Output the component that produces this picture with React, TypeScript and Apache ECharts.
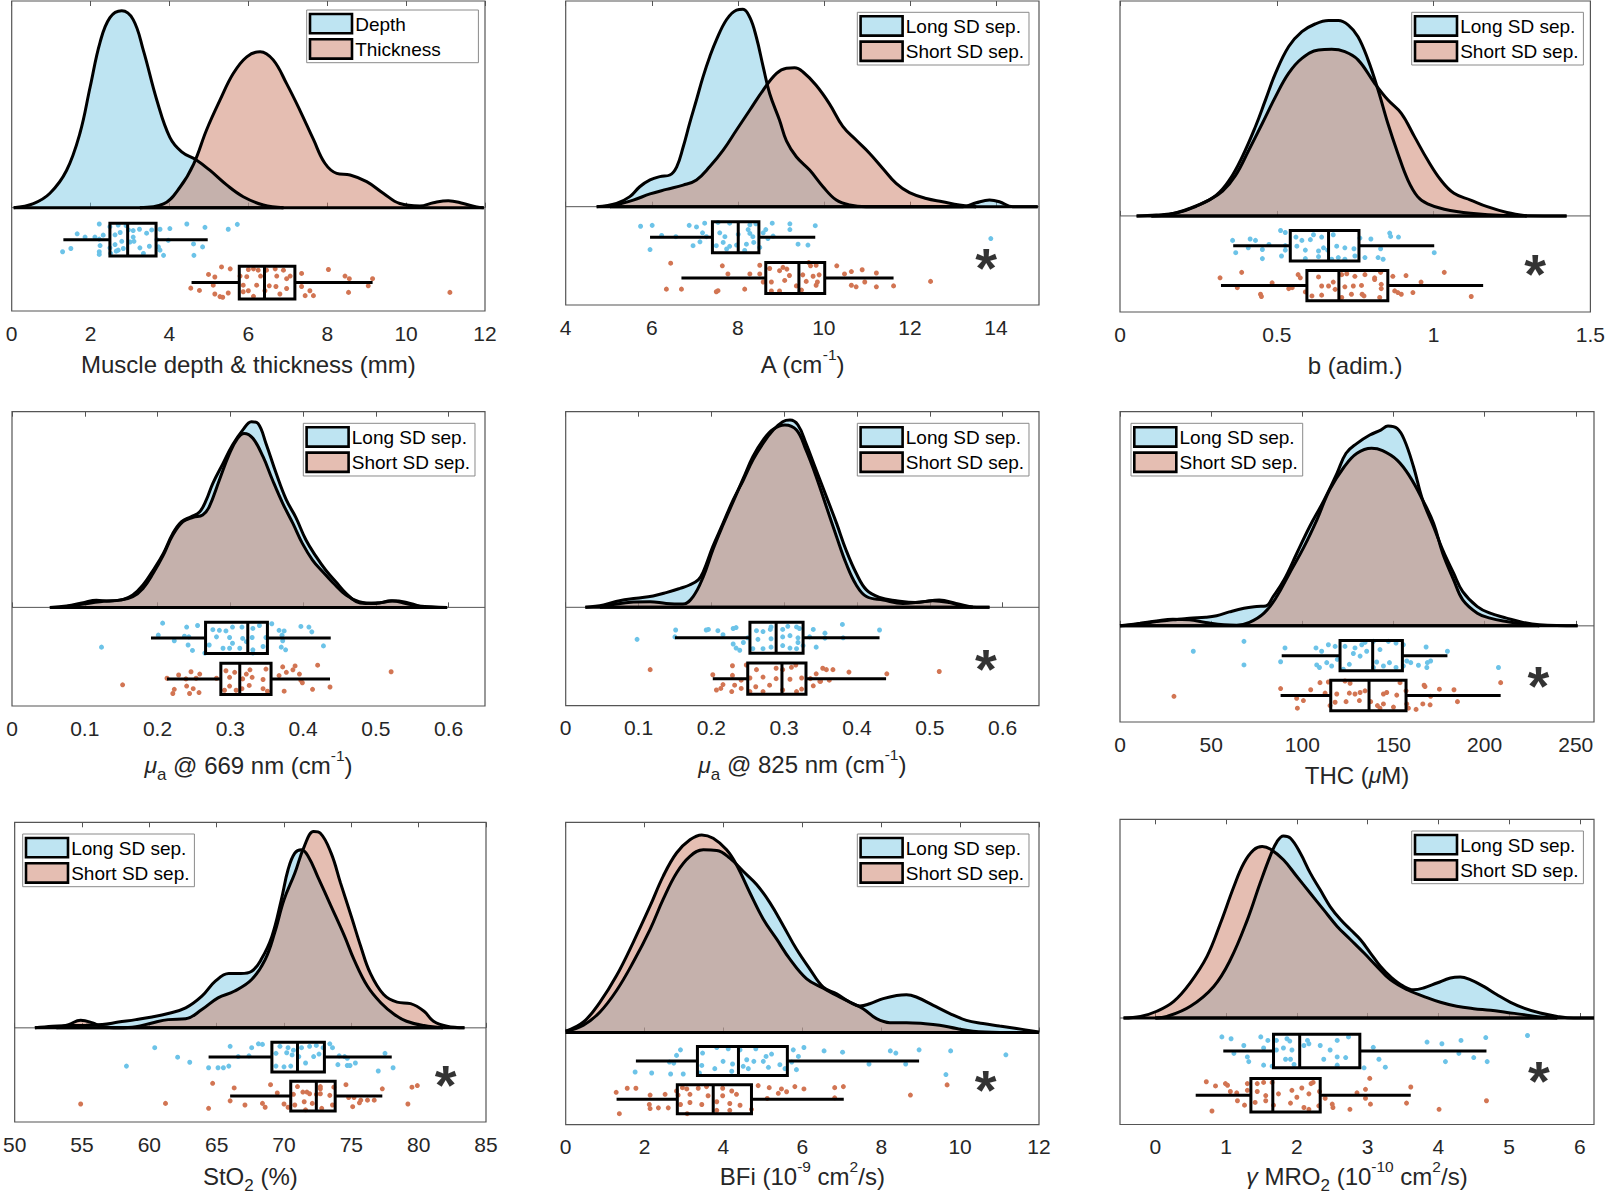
import React, { useEffect, useRef } from 'react';
import * as echarts from 'echarts';

// ---------- Kernel density outlines: [value, relative height] ----------
const depthCurve = [[0.05,0],[0.55,0.02],[0.97,0.07],[1.39,0.18],[1.73,0.36],[1.99,0.585],[2.24,0.8],[2.49,0.92],[2.79,0.953],[3.08,0.91],[3.34,0.76],[3.68,0.52],[4.01,0.34],[4.31,0.27],[4.69,0.23],[5.03,0.18],[5.45,0.11],[5.87,0.053],[6.38,0.013],[6.89,0]];
const thickCurve = [[3.25,0],[3.85,0.018],[4.27,0.1],[4.61,0.21],[4.94,0.376],[5.28,0.52],[5.62,0.65],[5.96,0.73],[6.3,0.755],[6.63,0.715],[6.97,0.6],[7.31,0.47],[7.65,0.33],[7.94,0.215],[8.24,0.166],[8.58,0.158],[9.0,0.126],[9.42,0.07],[9.84,0.02],[10.35,0.008],[10.69,0.024],[11.07,0.034],[11.45,0.02],[11.79,0.003],[11.97,0]];

const longACurve = [[4.72,0],[5.18,0.016],[5.49,0.049],[5.72,0.097],[5.96,0.13],[6.19,0.146],[6.42,0.154],[6.58,0.194],[6.73,0.29],[6.88,0.405],[7.04,0.52],[7.19,0.63],[7.35,0.73],[7.5,0.81],[7.74,0.91],[7.97,0.956],[8.12,0.96],[8.28,0.92],[8.43,0.825],[8.59,0.68],[8.74,0.55],[8.97,0.42],[9.13,0.32],[9.36,0.243],[9.67,0.178],[9.98,0.097],[10.29,0.032],[10.6,0.008],[10.98,0],[13.23,0],[13.54,0.019],[13.85,0.032],[14.08,0.024],[14.39,0],[14.97,0]];
const shortACurve = [[5.03,0],[5.57,0.032],[5.96,0.062],[6.34,0.084],[6.73,0.105],[7.04,0.13],[7.35,0.195],[7.66,0.275],[7.97,0.373],[8.28,0.47],[8.59,0.567],[8.9,0.648],[9.13,0.673],[9.32,0.675],[9.51,0.656],[9.82,0.59],[10.13,0.5],[10.44,0.39],[10.75,0.324],[11.06,0.26],[11.37,0.186],[11.68,0.113],[11.99,0.068],[12.38,0.04],[12.76,0.024],[13.15,0.008],[13.54,0]];

const longBCurve = [[0.053,0],[0.116,0.004],[0.179,0.014],[0.243,0.045],[0.306,0.095],[0.348,0.165],[0.39,0.276],[0.432,0.416],[0.464,0.54],[0.496,0.664],[0.538,0.788],[0.58,0.857],[0.622,0.893],[0.665,0.909],[0.696,0.909],[0.728,0.888],[0.759,0.834],[0.791,0.726],[0.823,0.586],[0.854,0.431],[0.886,0.291],[0.918,0.167],[0.949,0.09],[0.981,0.056],[1.034,0.031],[1.118,0.012],[1.224,0.002],[1.424,0]];
const shortBCurve = [[0.1,0],[0.16,0.008],[0.222,0.035],[0.285,0.075],[0.327,0.115],[0.369,0.19],[0.411,0.307],[0.454,0.431],[0.496,0.555],[0.538,0.664],[0.58,0.733],[0.633,0.772],[0.675,0.775],[0.717,0.764],[0.759,0.726],[0.812,0.617],[0.854,0.54],[0.897,0.477],[0.939,0.369],[0.981,0.26],[1.023,0.167],[1.065,0.105],[1.118,0.074],[1.171,0.043],[1.234,0.016],[1.297,0]];

const long669Curve = [[0.052,0],[0.075,0.007],[0.098,0.024],[0.116,0.037],[0.134,0.032],[0.153,0.041],[0.166,0.063],[0.18,0.114],[0.194,0.19],[0.208,0.276],[0.221,0.378],[0.233,0.438],[0.246,0.463],[0.258,0.489],[0.267,0.549],[0.276,0.634],[0.29,0.736],[0.303,0.83],[0.317,0.906],[0.329,0.949],[0.338,0.94],[0.349,0.838],[0.363,0.685],[0.377,0.549],[0.39,0.46],[0.404,0.344],[0.418,0.259],[0.431,0.191],[0.445,0.131],[0.459,0.072],[0.473,0.029],[0.486,0.02],[0.505,0.024],[0.523,0.032],[0.541,0.02],[0.559,0.007],[0.598,0]];
const short669Curve = [[0.066,0],[0.098,0.017],[0.121,0.029],[0.148,0.037],[0.166,0.055],[0.18,0.097],[0.194,0.174],[0.208,0.267],[0.221,0.37],[0.235,0.438],[0.249,0.46],[0.262,0.472],[0.271,0.514],[0.285,0.651],[0.299,0.787],[0.31,0.864],[0.319,0.889],[0.331,0.864],[0.345,0.77],[0.358,0.651],[0.372,0.532],[0.386,0.429],[0.399,0.327],[0.413,0.242],[0.427,0.182],[0.441,0.126],[0.459,0.063],[0.477,0.029],[0.5,0.02],[0.521,0.034],[0.541,0.027],[0.564,0]];

const long825Curve = [[0.027,0],[0.052,0.012],[0.074,0.034],[0.097,0.046],[0.12,0.058],[0.138,0.075],[0.157,0.097],[0.17,0.114],[0.182,0.14],[0.189,0.182],[0.202,0.31],[0.216,0.429],[0.23,0.549],[0.244,0.651],[0.257,0.753],[0.271,0.838],[0.285,0.906],[0.298,0.949],[0.308,0.957],[0.319,0.932],[0.33,0.838],[0.344,0.702],[0.358,0.566],[0.372,0.429],[0.385,0.293],[0.399,0.174],[0.413,0.089],[0.431,0.051],[0.454,0.034],[0.481,0.024],[0.504,0.034],[0.527,0.024],[0.55,0.003],[0.582,0]];
const short825Curve = [[0.047,0],[0.07,0.017],[0.093,0.027],[0.116,0.029],[0.138,0.02],[0.161,0.017],[0.175,0.055],[0.189,0.157],[0.202,0.293],[0.216,0.421],[0.23,0.54],[0.244,0.66],[0.257,0.77],[0.271,0.855],[0.285,0.91],[0.301,0.932],[0.317,0.906],[0.33,0.804],[0.344,0.668],[0.358,0.514],[0.372,0.361],[0.385,0.225],[0.399,0.114],[0.413,0.055],[0.436,0.037],[0.463,0.02],[0.49,0.029],[0.513,0.037],[0.536,0.02],[0.559,0]];

const longTHCCurve = [[0,0],[11,0.009],[20,0.02],[29,0.028],[38,0.036],[47,0.04],[53,0.047],[60,0.065],[68,0.082],[75,0.09],[80,0.093],[84,0.137],[90,0.215],[97,0.339],[104,0.463],[112,0.588],[119,0.712],[124,0.806],[130,0.852],[137,0.891],[143,0.914],[147,0.933],[152,0.922],[156,0.868],[161,0.743],[166,0.588],[172,0.463],[177,0.355],[183,0.246],[188,0.16],[196,0.09],[203,0.059],[212,0.036],[221,0.016],[230,0.005],[251,0]];
const shortTHCCurve = [[0,0],[11,0.012],[20,0.023],[29,0.031],[38,0.028],[47,0.016],[57,0.005],[64,0.003],[71,0.016],[79,0.059],[86,0.137],[93,0.246],[101,0.37],[108,0.495],[115,0.635],[123,0.743],[130,0.806],[138,0.829],[144,0.818],[152,0.774],[159,0.697],[166,0.588],[172,0.479],[177,0.339],[183,0.215],[188,0.121],[196,0.059],[203,0.036],[212,0.02],[221,0.009],[230,0]];

const longStO2Curve = [[51.5,0],[52.8,0.008],[54.0,0.011],[55.3,0.013],[56.5,0.016],[57.7,0.028],[59.0,0.04],[60.2,0.053],[61.4,0.07],[62.7,0.097],[63.9,0.154],[64.9,0.227],[65.9,0.264],[66.8,0.264],[67.6,0.275],[68.3,0.332],[69.1,0.445],[69.8,0.623],[70.3,0.769],[70.8,0.85],[71.3,0.866],[71.8,0.834],[72.5,0.736],[73.5,0.591],[74.5,0.445],[75.2,0.332],[76.2,0.202],[77.2,0.121],[78.2,0.065],[79.1,0.032],[80.4,0.011],[81.8,0]];
const shortStO2Curve = [[53.1,0],[54.0,0.016],[54.9,0.037],[55.8,0.024],[56.5,0.005],[57.7,0],[59.0,0.005],[60.2,0.024],[61.4,0.04],[62.7,0.044],[63.9,0.089],[65.1,0.146],[66.3,0.178],[67.6,0.235],[68.6,0.332],[69.3,0.461],[70.0,0.623],[70.8,0.752],[71.5,0.882],[72.2,0.955],[72.7,0.947],[73.5,0.85],[74.2,0.704],[75.0,0.542],[75.7,0.396],[76.4,0.267],[77.4,0.162],[78.4,0.125],[79.4,0.118],[80.4,0.081],[81.1,0.032],[82.1,0.008],[83.4,0]];

const longBFiCurve = [[0,0.006],[0.45,0.035],[0.87,0.098],[1.29,0.2],[1.71,0.334],[2.14,0.491],[2.47,0.633],[2.81,0.759],[3.15,0.838],[3.49,0.869],[3.83,0.866],[4.16,0.83],[4.5,0.767],[4.84,0.704],[5.18,0.617],[5.52,0.507],[5.85,0.397],[6.19,0.302],[6.53,0.216],[6.87,0.184],[7.2,0.145],[7.46,0.126],[7.71,0.137],[8.05,0.161],[8.39,0.176],[8.64,0.18],[8.89,0.169],[9.32,0.129],[9.74,0.09],[10.16,0.058],[10.58,0.043],[11.0,0.031],[11.43,0.019],[12.0,0.003]];
const shortBFiCurve = [[0,0.006],[0.45,0.05],[0.87,0.145],[1.29,0.271],[1.71,0.428],[2.14,0.602],[2.47,0.743],[2.81,0.854],[3.15,0.917],[3.45,0.94],[3.74,0.924],[4.08,0.869],[4.33,0.798],[4.67,0.665],[5.01,0.539],[5.35,0.444],[5.68,0.35],[6.11,0.255],[6.53,0.211],[6.87,0.176],[7.2,0.145],[7.54,0.113],[7.88,0.066],[8.22,0.047],[8.64,0.047],[9.06,0.043],[9.48,0.035],[9.91,0.019],[10.33,0.006],[11.0,0]];

const longMROCurve = [[0.0,0],[0.165,0.008],[0.495,0.059],[0.825,0.159],[1.06,0.293],[1.3,0.494],[1.48,0.678],[1.63,0.821],[1.72,0.888],[1.81,0.916],[1.91,0.905],[2.05,0.829],[2.19,0.729],[2.33,0.645],[2.47,0.561],[2.62,0.494],[2.76,0.444],[2.9,0.394],[3.04,0.327],[3.18,0.26],[3.32,0.209],[3.51,0.159],[3.65,0.142],[3.79,0.151],[3.98,0.176],[4.17,0.201],[4.31,0.206],[4.45,0.193],[4.64,0.159],[4.83,0.117],[5.02,0.079],[5.21,0.05],[5.44,0.025],[5.68,0.008],[5.91,0],[6.2,0]];
const shortMROCurve = [[-0.45,0],[-0.21,0.008],[0.02,0.034],[0.26,0.084],[0.49,0.176],[0.73,0.31],[0.92,0.477],[1.11,0.662],[1.25,0.779],[1.39,0.846],[1.51,0.863],[1.63,0.849],[1.81,0.796],[2.0,0.712],[2.19,0.628],[2.38,0.544],[2.57,0.461],[2.76,0.394],[2.95,0.327],[3.13,0.26],[3.32,0.193],[3.56,0.142],[3.79,0.109],[4.03,0.079],[4.26,0.059],[4.5,0.047],[4.74,0.039],[4.97,0.028],[5.21,0.017],[5.44,0.005],[5.68,0]];

// ---------- Box summaries: [lower whisker, Q1, median, Q3, upper whisker] ----------
const depthBox = [1.31, 2.49, 2.94, 3.66, 4.97];
const thickBox = [4.56, 5.77, 6.41, 7.18, 9.15];
const longABox = [5.96, 7.41, 8.01, 8.49, 9.8];
const shortABox = [6.69, 8.65, 9.42, 10.02, 11.62];
const longBBox = [0.361, 0.543, 0.665, 0.762, 1.002];
const shortBBox = [0.322, 0.596, 0.698, 0.854, 1.158];
const long669Box = [0.191, 0.266, 0.324, 0.351, 0.438];
const short669Box = [0.213, 0.287, 0.313, 0.356, 0.437];
const long825Box = [0.15, 0.253, 0.289, 0.326, 0.431];
const short825Box = [0.202, 0.25, 0.297, 0.33, 0.44];
const longTHCBox = [88.7, 120.7, 138.6, 154.9, 179.6];
const shortTHCBox = [88.1, 115.6, 136.6, 156.9, 208.8];
const longStO2Box = [64.4, 69.1, 71.0, 73.0, 78.0];
const shortStO2Box = [66.0, 70.5, 72.4, 73.8, 77.3];
const longBFiBox = [1.78, 3.34, 4.38, 5.62, 8.96];
const shortBFiBox = [1.29, 2.83, 3.74, 4.71, 7.05];
const longMROBox = [0.96, 1.67, 2.04, 2.89, 4.68];
const shortMROBox = [0.57, 1.35, 1.66, 2.33, 3.61];

// ---------- Individual subjects: [value, jitter (-1 top .. 1 bottom of the box row)] ----------
const depthDots = [[2.22,-0.96],[2.49,-0.8],[2.7,-0.9],[2.9,-0.86],[1.66,-0.36],[1.86,-0.16],[2.11,-0.16],[2.22,-0.04],[2.32,-0.28],[2.62,-0.3],[2.75,-0.44],[2.96,-0.6],[3.08,-0.56],[3.24,-0.64],[3.42,-0.4],[3.55,-0.6],[3.76,-0.64],[4.01,-0.68],[4.44,-0.96],[4.9,-0.76],[5.49,-0.64],[5.72,-0.94],[1.29,0.74],[1.5,0.54],[2.22,0.74],[2.22,0.9],[2.49,0.5],[2.62,0.3],[2.7,0.64],[2.83,0.54],[3.0,0.14],[3.1,0.1],[3.25,0.5],[3.34,0.84],[3.49,0.4],[3.72,0.44],[3.76,0.64],[3.85,0.96],[3.97,0.04],[4.61,0.26],[4.62,0.96],[4.84,0.44],[2.24,0.36],[2.51,0.84],[2.65,0.7],[2.79,0.1],[3.08,-0.16],[3.68,0]];
const thickDots = [[5.32,-0.96],[5.54,-0.84],[6.0,-0.8],[6.13,-0.84],[6.25,-0.76],[6.46,-0.76],[6.68,-0.84],[6.89,-0.76],[7.06,-0.4],[7.35,-0.56],[8.03,-0.8],[4.99,-0.5],[5.15,-0.34],[5.79,-0.4],[5.96,-0.36],[6.31,-0.4],[6.72,-0.4],[6.97,-0.24],[8.45,-0.4],[8.56,-0.24],[9.15,-0.24],[4.54,0.34],[4.76,0.48],[5.11,0.16],[5.87,0.16],[6.21,0.16],[6.53,0.2],[6.7,0.24],[6.97,0.36],[7.35,0.24],[9.04,0.2],[5.15,0.7],[5.28,0.86],[5.35,0.9],[5.49,0.64],[5.87,0.56],[6.0,0.5],[6.13,0.84],[6.42,0.5],[6.8,0.7],[7.44,0.8],[7.56,0.5],[7.65,0.8],[8.54,0.6],[11.11,0.6]];
const longADots = [[5.74,-0.7],[6.01,-0.76],[6.87,-0.76],[7.04,-0.66],[7.23,-0.9],[7.54,-0.95],[7.81,-0.9],[8.28,-0.8],[8.42,-0.86],[8.65,-0.49],[8.8,-0.9],[9.21,-0.86],[9.8,-0.74],[6.23,-0.11],[6.56,-0.03],[7.18,-0.28],[7.27,-0.03],[7.58,-0.28],[7.7,-0.03],[8.01,-0.18],[8.28,-0.24],[8.35,-0.03],[8.59,-0.28],[8.7,0.09],[8.82,-0.07],[9.21,-0.49],[5.96,0.8],[6.96,0.55],[7.12,0.3],[7.5,0.55],[7.81,0.59],[7.97,0.51],[8.2,0.45],[8.37,0.34],[8.51,0.66],[9.4,0.45],[9.63,0.51],[13.88,0.09],[7.66,0.34],[7.74,0.76],[8.16,0.86],[8.24,-0.49]];
const shortADots = [[6.44,-0.95],[7.64,-0.78],[8.51,-0.82],[8.74,-0.61],[9.05,-0.68],[9.65,-0.99],[9.69,-0.78],[9.82,-0.82],[10.3,-0.78],[8.51,-0.26],[8.28,-0.26],[7.77,-0.26],[9.2,-0.16],[9.51,-0.2],[9.75,-0.11],[9.89,-0.2],[10.48,-0.26],[10.64,-0.41],[10.89,-0.53],[11.22,-0.32],[9.14,-0.57],[8.97,-0.47],[8.59,0.26],[8.78,0.26],[9.09,0.16],[9.59,0.22],[9.85,0.26],[10.64,0.47],[10.75,0.57],[10.95,0.26],[11.22,0.57],[11.62,0.51],[12.48,0.22],[6.34,0.72],[6.69,0.72],[7.5,0.89],[7.54,0.82],[8.16,0.72],[8.78,0.84],[8.97,0.84],[9.36,0.51],[9.48,0.78],[9.82,0.47]];
const longBDots = [[0.512,-1.0],[0.561,-0.57],[0.617,-0.72],[0.643,-0.57],[0.68,-0.72],[0.765,-0.5],[0.8,-0.44],[0.86,-0.83],[0.863,-0.61],[0.888,-0.57],[0.359,-0.35],[0.415,-0.44],[0.432,-0.35],[0.58,-0.35],[0.607,-0.4],[0.527,-0.87],[0.454,0.25],[0.409,0.14],[0.475,-0.08],[0.527,-0.01],[0.564,0.03],[0.649,0.14],[0.691,0.03],[0.717,0.14],[0.746,0.2],[0.831,0.2],[0.369,0.46],[0.527,0.29],[0.591,0.29],[0.633,0.35],[0.662,0.29],[0.454,0.85],[0.515,0.68],[0.591,0.85],[0.633,0.72],[0.675,0.89],[0.717,0.89],[0.749,0.68],[0.781,0.78],[0.823,0.78],[0.839,0.89],[1.002,0.46],[0.696,0.78]];
const shortBDots = [[0.319,-0.51],[0.388,-0.87],[0.568,-0.72],[0.575,-0.51],[0.633,-0.57],[0.707,-0.72],[0.723,-0.78],[0.749,-0.61],[0.781,-0.72],[0.812,-0.51],[0.831,-0.87],[0.87,-0.61],[0.912,-0.66],[1.034,-0.87],[0.485,-0.18],[0.538,0.2],[0.549,0.14],[0.643,0.03],[0.665,0.03],[0.68,-0.23],[0.717,0.08],[0.744,0.03],[0.77,-0.01],[0.812,-0.4],[0.833,-0.08],[0.96,-0.23],[0.374,0.14],[0.448,0.57],[0.451,0.72],[0.612,0.68],[0.643,0.63],[0.707,0.78],[0.738,0.57],[0.772,0.57],[0.778,0.68],[0.828,0.78],[0.876,0.35],[0.886,0.46],[0.897,0.57],[0.934,0.46],[1.12,0.72],[0.591,0.42],[0.686,0.25],[0.833,0.2]];
const long669Dots = [[0.207,-0.95],[0.24,-0.7],[0.255,-0.8],[0.276,-0.53],[0.285,-0.49],[0.294,-0.45],[0.303,-0.7],[0.316,-0.7],[0.331,-0.61],[0.34,-0.8],[0.357,-0.91],[0.367,-0.49],[0.374,-0.45],[0.397,-0.74],[0.408,-0.7],[0.412,-0.39],[0.201,-0.18],[0.237,-0.11],[0.243,-0.07],[0.223,0.18],[0.281,-0.07],[0.299,-0.03],[0.317,0.03],[0.33,-0.03],[0.349,-0.03],[0.371,-0.18],[0.372,0.18],[0.123,0.59],[0.242,0.45],[0.248,0.8],[0.265,0.97],[0.271,0.45],[0.299,0.66],[0.313,0.66],[0.331,0.76],[0.345,0.55],[0.37,0.59],[0.376,0.76],[0.428,0.51],[0.331,0.97],[0.322,0.24],[0.303,0.34],[0.29,0.66]];
const short669Dots = [[0.246,-0.46],[0.258,-0.31],[0.294,-0.52],[0.306,-0.42],[0.322,-0.31],[0.327,-0.58],[0.349,-0.63],[0.372,-0.77],[0.386,-0.58],[0.389,-0.83],[0.42,-0.88],[0.377,-0.42],[0.395,-0.31],[0.229,-0.25],[0.213,-0.04],[0.239,0],[0.253,-0.04],[0.281,-0.04],[0.299,-0.1],[0.317,0],[0.33,-0.1],[0.345,0.04],[0.367,-0.21],[0.397,0.1],[0.399,0.25],[0.521,-0.46],[0.152,0.38],[0.223,0.67],[0.24,0.46],[0.249,0.63],[0.257,0.88],[0.221,0.94],[0.244,0.94],[0.292,0.73],[0.308,0.73],[0.326,0.42],[0.345,0.63],[0.351,0.79],[0.374,0.79],[0.413,0.67],[0.437,0.52],[0.299,0.46],[0.316,0.63]];
const long825Dots = [[0.151,-0.5],[0.193,-0.5],[0.196,-0.54],[0.209,-0.46],[0.23,-0.6],[0.234,-0.66],[0.262,-0.46],[0.271,-0.4],[0.281,-0.54],[0.282,-0.7],[0.298,-0.54],[0.305,-0.74],[0.317,-0.7],[0.321,-0.6],[0.34,-0.54],[0.356,-0.3],[0.38,-0.86],[0.431,-0.5],[0.098,0.1],[0.15,-0.06],[0.216,-0.2],[0.25,0],[0.264,0.1],[0.282,0.06],[0.298,-0.06],[0.308,-0.14],[0.319,0],[0.335,-0.06],[0.356,0.02],[0.381,0],[0.23,0.4],[0.234,0.66],[0.239,0.8],[0.257,0.7],[0.271,0.7],[0.282,0.6],[0.298,0.5],[0.308,0.66],[0.317,0.7],[0.326,0.5],[0.344,0.6],[0.319,0.3],[0.244,0.3]];
const short825Dots = [[0.116,-0.58],[0.229,-0.83],[0.248,-0.88],[0.262,-0.58],[0.289,-0.67],[0.298,-0.58],[0.31,-0.73],[0.316,-0.88],[0.344,-0.31],[0.353,-0.67],[0.358,-0.58],[0.367,-0.58],[0.389,-0.42],[0.441,-0.31],[0.513,-0.46],[0.202,-0.25],[0.229,-0.21],[0.241,0.1],[0.253,-0.04],[0.271,-0.1],[0.289,0],[0.308,0.04],[0.324,-0.04],[0.336,0],[0.35,0.17],[0.362,0.1],[0.261,0.52],[0.232,0.42],[0.216,0.38],[0.207,0.73],[0.213,0.63],[0.228,0.83],[0.241,0.63],[0.253,0.83],[0.271,0.83],[0.298,0.73],[0.317,0.83],[0.324,0.67],[0.34,0.46],[0.349,0.17],[0.28,0.42]];
const longTHCDots = [[68,-0.94],[40.2,-0.29],[90.5,-0.51],[107.5,-0.51],[110.6,-0.29],[114.3,-0.72],[118,-0.61],[123.4,-0.61],[128.9,-0.51],[132.6,-0.72],[134.4,-0.87],[139,-0.94],[142.6,-0.4],[147.2,-0.94],[151.4,-0.83],[155.4,-0.72],[167.9,-0.57],[179.6,-0.29],[68,0.61],[88.1,0.4],[107.9,0.61],[109.4,0.78],[113.4,0.46],[116.1,0.68],[119.2,0.25],[125.8,0.57],[128,-0.14],[131.7,0.03],[135.3,-0.29],[140.8,0.42],[144.5,0.68],[147.8,0.46],[151.4,0.78],[155.4,0.68],[157.3,0.35],[159.5,0.46],[163.7,0.63],[168.6,0.46],[170.4,0.35],[207.6,0.78],[168.3,0.78],[122.5,0.89],[139,0.78]];
const shortTHCDots = [[88.1,-0.46],[109.7,-0.85],[114.3,-0.89],[123.4,-0.96],[126.2,-0.81],[153.6,-0.85],[166.8,-0.68],[167.3,-0.59],[208.8,-0.85],[104.6,-0.38],[112.5,-0.16],[118.9,-0.1],[125.8,-0.16],[128.9,-0.1],[131.7,-0.2],[134.4,-0.31],[144.5,-0.1],[146.3,-0.2],[151.8,-0.03],[156.9,-0.31],[170.4,0.05],[175.2,-0.42],[183.2,-0.38],[29.6,0.05],[96.9,0.18],[100.6,0.33],[118,0.44],[124,0.4],[131.3,0.33],[137.5,0.4],[141.2,0.66],[144.5,0.55],[150,0.76],[158.2,0.83],[162.4,0.91],[166.1,0.55],[185.1,0.4],[97.3,0.83],[115.2,0.66],[142.6,0.83],[157.3,0.55],[170.1,0.61]];
const longStO2Dots = [[60.4,-0.63],[66.0,-0.72],[67.6,-0.63],[68.1,-0.89],[68.4,-0.85],[69.7,-0.72],[70.3,-0.63],[70.7,-0.46],[71.3,-0.63],[71.9,-0.72],[72.4,-0.78],[72.9,-0.63],[73.4,-0.89],[73.6,-0.63],[62.1,0.01],[63.0,0.35],[66.6,-0.03],[67.4,-0.08],[69.4,-0.25],[70.2,-0.29],[70.6,-0.14],[71.1,-0.03],[72.2,-0.03],[72.6,-0.2],[74.1,-0.08],[74.5,-0.03],[74.7,0.08],[75.3,0.4],[77.5,-0.25],[58.3,0.61],[64.4,0.72],[65.1,0.72],[65.5,0.72],[65.9,0.61],[69.4,0.61],[70.0,0.66],[70.5,0.61],[74.0,0.51],[74.7,0.57],[74.9,0.57],[77.0,0.94],[78.1,0.72],[71.6,0.4]];
const shortStO2Dots = [[64.7,-0.86],[66.3,-0.55],[69.0,-0.77],[71.0,-0.64],[71.7,-0.27],[72.7,-0.64],[72.7,-0.49],[73.7,-0.6],[74.6,-0.77],[77.3,-0.49],[79.5,-0.6],[79.9,-0.71],[69.5,-0.21],[70.7,-0.12],[71.4,-0.27],[71.9,-0.16],[72.4,-0.12],[72.7,-0.16],[73.4,-0.05],[74.8,0.1],[75.2,0.1],[75.7,0.27],[76.2,0.27],[76.7,0.27],[54.9,0.53],[61.2,0.49],[64.4,0.82],[66.0,0.32],[67.1,0.6],[68.4,0.49],[68.6,0.75],[70.0,0.53],[70.3,0.75],[70.8,0.6],[71.5,0.38],[72.1,0.49],[72.8,0.82],[73.6,0.6],[75.1,0.71],[75.6,0.45],[79.2,0.53],[71.6,0.92]];
const longBFiDots = [[2.91,-0.77],[2.81,-0.39],[3.47,-0.55],[3.83,-0.93],[4.12,-0.84],[4.42,-0.77],[4.82,-0.84],[5.08,-0.32],[5.22,-0.48],[5.77,-0.77],[5.9,-0.32],[6.04,-0.93],[6.55,-0.7],[7.02,-0.61],[8.23,-0.7],[8.37,-0.55],[8.96,-0.77],[9.76,-0.7],[11.16,-0.43],[2.63,0.07],[2.74,0.14],[3.45,0.3],[3.99,0.02],[4.23,0.2],[4.59,-0.09],[4.77,0.02],[5.01,0.02],[5.43,0.25],[5.73,0.07],[7.69,0.2],[8.62,0.2],[1.76,0.75],[2.18,0.82],[2.66,0.89],[2.98,0.89],[3.39,0.82],[3.78,0.52],[4.21,0.7],[4.63,0.52],[5.14,0.43],[5.56,0.52],[5.85,0.59],[9.64,0.93],[4.5,0.36]];
const shortBFiDots = [[1.56,-0.76],[1.78,-0.76],[2.81,-0.57],[2.96,-0.8],[3.07,-0.71],[3.36,-0.76],[3.57,-0.87],[3.98,-0.76],[4.21,-0.57],[4.88,-0.94],[5.16,-0.8],[5.47,-0.71],[5.81,-0.87],[6.04,-0.71],[6.82,-0.8],[7.04,-0.87],[1.28,-0.48],[2.14,-0.29],[2.52,-0.34],[2.85,-0.29],[3.15,-0.34],[3.61,-0.24],[3.98,-0.24],[4.33,-0.34],[5.11,-0.06],[5.39,-0.41],[5.6,-0.52],[6.82,-0.1],[8.74,-0.29],[9.67,-0.99],[2.12,0.36],[2.35,0.59],[2.6,0.59],[2.91,0.36],[3.15,0.22],[3.45,0.36],[3.83,0.17],[4.16,0.29],[4.42,0.41],[4.71,0.69],[1.36,0.99],[2.14,0.64],[3.83,0.76],[4.16,0.76],[3.08,0.99]];
const longMRODots = [[0.94,-0.84],[1.07,-0.73],[1.49,-0.84],[1.59,-0.63],[1.71,-0.63],[1.86,-0.73],[1.9,-0.59],[2.15,-0.63],[2.57,-0.63],[2.73,-0.84],[3.84,-0.53],[4.05,-0.43],[4.32,-0.63],[4.67,-0.8],[5.26,-0.92],[1.11,0.14],[1.25,-0.33],[1.3,0.35],[1.53,-0.18],[1.71,-0.06],[1.81,-0.18],[1.93,-0.06],[2.1,-0.33],[2.17,-0.43],[2.33,-0.33],[2.47,-0.06],[3.08,-0.22],[4.29,0.14],[1.32,0.63],[1.53,0.84],[1.65,0.9],[1.84,0.49],[1.91,0.49],[2.38,0.49],[2.57,0.35],[2.69,0.39],[2.95,1.0],[3.16,0.49],[3.25,0.96],[4.1,0.63],[4.5,0.39],[4.69,0.63],[2.57,0.84],[1.96,0.8]];
const shortMRODots = [[0.72,-0.8],[0.85,-0.55],[0.99,-0.69],[1.02,-0.59],[1.3,-0.69],[1.44,-0.69],[1.53,-0.76],[1.65,-0.76],[1.93,-0.29],[2.07,-0.43],[2.2,-0.69],[2.23,-0.76],[3.03,-1.0],[1.06,-0.22],[1.15,-0.14],[1.3,-0.29],[1.44,-0.22],[1.56,0.02],[1.74,-0.08],[2.0,0.12],[2.17,-0.08],[2.32,-0.22],[2.4,0.18],[2.85,-0.14],[2.97,-0.35],[2.97,0.18],[3.61,-0.49],[0.8,0.94],[1.16,0.33],[1.26,0.59],[1.41,0.43],[1.56,0.33],[1.67,0.59],[1.91,0.47],[2.1,0.73],[2.17,0.84],[2.31,0.63],[2.5,0.53],[2.51,0.73],[2.75,0.84],[3.04,0.53],[3.55,0.47],[4.01,0.84],[4.68,0.33]];

// ---------- Tick labels ----------
const ticksDepth = [0, 2, 4, 6, 8, 10, 12];
const ticksA = [4, 6, 8, 10, 12, 14];
const ticksB = [0, 0.5, 1, 1.5];
const ticksMua = [0, 0.1, 0.2, 0.3, 0.4, 0.5, 0.6];
const ticksTHC = [0, 50, 100, 150, 200, 250];
const ticksStO2 = [50, 55, 60, 65, 70, 75, 80, 85];
const ticksBFi = [0, 2, 4, 6, 8, 10, 12];
const ticksMRO = [0, 1, 2, 3, 4, 5, 6];

const groupNames = ['Long SD sep.', 'Short SD sep.'];
const sizeNames = ['Depth', 'Thickness'];

// ---------- Styling ----------
const FONT = '"Liberation Sans", Arial, Helvetica, sans-serif';
const AXIS_TEXT = '#262626';
const FRAME = '#555555';
const FILL = ['rgba(125,201,229,0.5)', 'rgba(203,125,101,0.5)'];
const SWATCH = ['#bee4f2', '#e5beb2'];
const DOT = ['#6cc3e8', '#d27553'];
const ROW_CENTER = [0.31, 0.725];
const ROW_HALF = 0.158;
const LW = 3;

// Panel layout: grid box [left, top, width, height] in px, L = lower strip / upper strip ratio
const panels = [
  { box: [11.7, 1, 473.3, 310], L: 0.5, min: 0, max: 12, ticks: ticksDepth, curves: [depthCurve, thickCurve], boxes: [depthBox, thickBox], dots: [depthDots, thickDots], star: null, legendNames: sizeNames, legendAt: [306.7, 10], title: 'Muscle depth & thickness (mm)', gap: 53 },
  { box: [565.7, 1, 473.3, 304], L: 0.478, min: 4, max: 15, ticks: ticksA, curves: [longACurve, shortACurve], boxes: [longABox, shortABox], dots: [longADots, shortADots], star: [13.77, 0.525], legendNames: groupNames, legendAt: [857.3, 12.3], title: 'A (cm{sup|-1})', gap: 59 },
  { box: [1120, 1, 474, 311], L: 0.447, min: 0, max: 1.5, ticks: ticksB, curves: [longBCurve, shortBCurve], boxes: [longBBox, shortBBox], dots: [longBDots, shortBDots], star: [1.324, 0.51], legendNames: groupNames, legendAt: [1411.7, 12.3], title: 'b (adim.)', gap: 53 },
  { box: [12, 411.7, 473, 294.3], L: 0.504, min: 0, max: 0.65, ticks: ticksMua, curves: [long669Curve, short669Curve], boxes: [long669Box, short669Box], dots: [long669Dots, short669Dots], star: null, legendNames: groupNames, legendAt: [303.3, 423.3], title: '{gk|μ}{sub|a} @ 669 nm (cm{sup|-1})', gap: 59 },
  { box: [565.7, 411.7, 473.3, 294], L: 0.503, min: 0, max: 0.65, ticks: ticksMua, curves: [long825Curve, short825Curve], boxes: [long825Box, short825Box], dots: [long825Dots, short825Dots], star: [0.577, 0.53], legendNames: groupNames, legendAt: [857.3, 423.3], title: '{gk|μ}{sub|a} @ 825 nm (cm{sup|-1})', gap: 59 },
  { box: [1120, 411.7, 474, 310.3], L: 0.449, min: 0, max: 260, ticks: ticksTHC, curves: [longTHCCurve, shortTHCCurve], boxes: [longTHCBox, shortTHCBox], dots: [longTHCDots, shortTHCDots], star: [229.5, 0.53], legendNames: groupNames, legendAt: [1131, 423.3], title: 'THC ({gk|μ}M)', gap: 53 },
  { box: [12, 822.3, 474, 300.4], L: 0.458, min: 50, max: 85, ticks: ticksStO2, curves: [longStO2Curve, shortStO2Curve], boxes: [longStO2Box, shortStO2Box], dots: [longStO2Dots, shortStO2Dots], star: [82.0, 0.51], legendNames: groupNames, legendAt: [22.7, 834], title: 'StO{sub|2} (%)', gap: 54 },
  { box: [565.7, 822.3, 473.3, 304.4], L: 0.438, min: 0, max: 12, ticks: ticksBFi, curves: [longBFiCurve, shortBFiCurve], boxes: [longBFiBox, shortBFiBox], dots: [longBFiDots, shortBFiDots], star: [10.65, 0.525], legendNames: groupNames, legendAt: [857.3, 834], title: 'BFi (10{sup|-9} cm{sup|2}/s)', gap: 50 },
  { box: [1120, 819.3, 474, 305.7], L: 0.536, min: -0.5, max: 6.2, ticks: ticksMRO, curves: [longMROCurve, shortMROCurve], boxes: [longMROBox, shortMROBox], dots: [longMRODots, shortMRODots], star: [5.42, 0.5], legendNames: groupNames, legendAt: [1411.7, 831], title: '{gk|γ} MRO{sub2|2} (10{sup|-10} cm{sup|2}/s)', gap: 51.5 },
];

const titleRich = {
  sup: { fontSize: 15.5, lineHeight: 27, verticalAlign: 'top', fontFamily: FONT, color: AXIS_TEXT },
  sub: { fontSize: 17, lineHeight: 10, verticalAlign: 'bottom', fontFamily: FONT, color: AXIS_TEXT },
  sub2: { fontSize: 17, lineHeight: 19, verticalAlign: 'bottom', fontFamily: FONT, color: AXIS_TEXT },
  gk: { fontSize: 23, fontStyle: 'italic', fontFamily: FONT, color: AXIS_TEXT },
};

function renderBox(params: any, api: any) {
  const y = api.value(0);
  const h = api.value(6);
  const pw1 = api.coord([api.value(1), y]);
  const xq1 = api.coord([api.value(2), y])[0];
  const xm = api.coord([api.value(3), y])[0];
  const xq3 = api.coord([api.value(4), y])[0];
  const xw2 = api.coord([api.value(5), y])[0];
  const yc = pw1[1];
  const yt = api.coord([api.value(2), y + h])[1];
  const yb = api.coord([api.value(2), y - h])[1];
  const st = { stroke: '#000', lineWidth: LW, fill: 'none' };
  return {
    type: 'group',
    children: [
      { type: 'line', shape: { x1: pw1[0], y1: yc, x2: xq1, y2: yc }, style: st },
      { type: 'line', shape: { x1: xq3, y1: yc, x2: xw2, y2: yc }, style: st },
      { type: 'rect', shape: { x: xq1, y: yt, width: xq3 - xq1, height: yb - yt }, style: st },
      { type: 'line', shape: { x1: xm, y1: yt, x2: xm, y2: yb }, style: st },
    ],
  };
}

function buildOption() {
  const grid: any[] = [];
  const xAxis: any[] = [];
  const yAxis: any[] = [];
  const series: any[] = [];
  const graphic: any[] = [];

  panels.forEach((p, i) => {
    const [left, top, width, height] = p.box;
    grid.push({ left, top, width, height, show: true, borderColor: FRAME, borderWidth: 1.2, backgroundColor: 'transparent' });
    const tickStyle = { inside: true, length: 5, lineStyle: { color: FRAME, width: 1 }, customValues: p.ticks };
    xAxis.push({
      type: 'value', gridIndex: i, position: 'bottom', min: p.min, max: p.max,
      axisLine: { show: false }, splitLine: { show: false }, axisTick: tickStyle,
      axisLabel: { customValues: p.ticks, margin: 11.5, fontSize: 21, fontFamily: FONT, color: AXIS_TEXT },
      name: p.title, nameLocation: 'middle', nameGap: p.gap,
      nameTextStyle: { fontSize: 24, lineHeight: 36, fontFamily: FONT, color: AXIS_TEXT, verticalAlign: 'middle', rich: titleRich },
    });
    xAxis.push({
      type: 'value', gridIndex: i, position: 'top', min: p.min, max: p.max,
      axisLine: { show: false }, splitLine: { show: false }, axisTick: tickStyle, axisLabel: { show: false },
    });
    yAxis.push({ type: 'value', gridIndex: i, min: -p.L, max: 1, show: false });

    const xi = 2 * i;
    const yi = i;
    // thin zero line across the whole panel
    series.push({ type: 'line', xAxisIndex: xi, yAxisIndex: yi, data: [[p.min, 0], [p.max, 0]], symbol: 'none', silent: true, lineStyle: { color: FRAME, width: 1 }, z: 1 });

    p.curves.forEach((c, k) => {
      series.push({
        type: 'line', xAxisIndex: xi, yAxisIndex: yi, data: c, smooth: 0.4, symbol: 'none', silent: true,
        lineStyle: { color: '#000', width: LW }, areaStyle: { color: FILL[k], origin: 0, opacity: 1 }, z: 2,
      });
      series.push({
        type: 'line', xAxisIndex: xi, yAxisIndex: yi, data: [[c[0][0], 0], [c[c.length - 1][0], 0]], symbol: 'none', silent: true,
        lineStyle: { color: '#000', width: LW }, z: 2,
      });
    });

    p.dots.forEach((d, k) => {
      series.push({
        type: 'scatter', xAxisIndex: xi, yAxisIndex: yi, symbolSize: 5, silent: true,
        itemStyle: { color: DOT[k], opacity: 1 },
        data: d.map(([v, j]) => [v, -p.L * (ROW_CENTER[k] + ROW_HALF * j)]),
        z: 3,
      });
    });

    series.push({
      type: 'custom', xAxisIndex: xi, yAxisIndex: yi, silent: true, renderItem: renderBox, z: 4,
      data: p.boxes.map((b, k) => [-p.L * ROW_CENTER[k], ...b, p.L * ROW_HALF]),
    });

    if (p.star) {
      series.push({
        type: 'scatter', xAxisIndex: xi, yAxisIndex: yi, symbolSize: 1, silent: true, z: 5,
        itemStyle: { color: 'rgba(0,0,0,0)' },
        label: { show: true, formatter: '*', position: 'inside', fontSize: 56, fontWeight: 'bold', color: '#000', fontFamily: FONT, offset: [0, 9] },
        data: [[p.star[0], -p.L * p.star[1]]],
      });
    }

    const [bx, by] = p.legendAt;
    graphic.push({
      type: 'group', x: bx, y: by, z: 100,
      children: [
        { type: 'rect', shape: { x: 0, y: 0, width: 171.7, height: 52.7 }, style: { fill: '#fff', stroke: '#8a8a8a', lineWidth: 1 } },
        { type: 'rect', shape: { x: 3.3, y: 4, width: 42, height: 19.3 }, style: { fill: SWATCH[0], stroke: '#000', lineWidth: 2.6 } },
        { type: 'rect', shape: { x: 3.3, y: 29.3, width: 42, height: 19.3 }, style: { fill: SWATCH[1], stroke: '#000', lineWidth: 2.6 } },
        { type: 'text', x: 48.5, y: 14.5, style: { text: p.legendNames[0], fontSize: 19, fontFamily: FONT, fill: '#000', verticalAlign: 'middle', align: 'left' } },
        { type: 'text', x: 48.5, y: 39.5, style: { text: p.legendNames[1], fontSize: 19, fontFamily: FONT, fill: '#000', verticalAlign: 'middle', align: 'left' } },
      ],
    });
  });

  return { animation: false, backgroundColor: '#ffffff', grid, xAxis, yAxis, series, graphic };
}

export default function App() {
  const ref = useRef<HTMLDivElement>(null);
  useEffect(() => {
    const chart = echarts.init(ref.current!, null, { renderer: 'svg' });
    chart.setOption(buildOption());
    return () => chart.dispose();
  }, []);
  return <div ref={ref} style={{ position: 'absolute', left: 0, top: 0, width: 1608, height: 1195, background: '#fff' }} />;
}
